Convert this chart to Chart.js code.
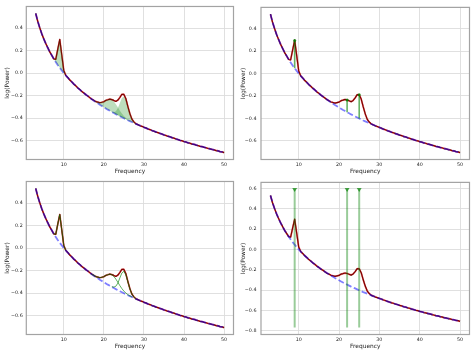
<!DOCTYPE html>
<html><head><meta charset="utf-8">
<script src="https://cdn.jsdelivr.net/npm/chart.js@4.4.1/dist/chart.umd.min.js"></script>
<style>
html,body{margin:0;padding:0;background:#fff;}
body{width:474px;height:355px;position:relative;overflow:hidden;}
.p{position:absolute;width:237px;height:177px;}
</style></head><body>
<div class="p" style="left:0;top:0"><canvas id="c1"></canvas></div>
<div class="p" style="left:237px;top:0"><canvas id="c2"></canvas></div>
<div class="p" style="left:0;top:175px"><canvas id="c3"></canvas></div>
<div class="p" style="left:237px;top:175px"><canvas id="c4"></canvas></div>
<script>
const freqs = [
 3,3.5,4,4.5,5,5.5,6,6.5,7,7.5,
 8,8.5,9,9.5,10,10.5,11,11.5,12,12.5,
 13,13.5,14,14.5,15,15.5,16,16.5,17,17.5,
 18,18.5,19,19.5,20,20.5,21,21.5,22,22.5,
 23,23.5,24,24.5,25,25.5,26,26.5,27,27.5,
 28,28.5,29,29.5,30,30.5,31,31.5,32,32.5,
 33,33.5,34,34.5,35,35.5,36,36.5,37,37.5,
 38,38.5,39,39.5,40,40.5,41,41.5,42,42.5,
 43,43.5,44,44.5,45,45.5,46,46.5,47,47.5,
 48,48.5,49,49.5,50];
const powerSpectrum = [
 0.531,0.460,0.404,0.350,0.306,0.263,0.227,0.188,0.159,0.126,
 0.122,0.213,0.299,0.161,0.024,-0.021,-0.039,-0.062,-0.078,-0.099,
 -0.113,-0.132,-0.145,-0.164,-0.176,-0.193,-0.204,-0.218,-0.233,-0.242,
 -0.254,-0.258,-0.264,-0.259,-0.255,-0.242,-0.237,-0.231,-0.236,-0.243,
 -0.252,-0.240,-0.217,-0.188,-0.190,-0.228,-0.298,-0.360,-0.409,-0.433,
 -0.451,-0.458,-0.468,-0.473,-0.482,-0.487,-0.497,-0.502,-0.511,-0.516,
 -0.525,-0.529,-0.537,-0.541,-0.550,-0.554,-0.563,-0.566,-0.574,-0.578,
 -0.586,-0.590,-0.598,-0.601,-0.609,-0.612,-0.620,-0.623,-0.631,-0.633,
 -0.640,-0.644,-0.651,-0.653,-0.660,-0.663,-0.670,-0.673,-0.679,-0.682,
 -0.689,-0.691,-0.698,-0.700,-0.707];
const modelFit = [
 0.530,0.462,0.403,0.352,0.305,0.264,0.225,0.190,0.158,0.128,
 0.123,0.211,0.297,0.163,0.025,-0.019,-0.041,-0.060,-0.079,-0.097,
 -0.114,-0.131,-0.147,-0.162,-0.177,-0.191,-0.205,-0.219,-0.231,-0.243,
 -0.252,-0.259,-0.262,-0.260,-0.254,-0.244,-0.236,-0.232,-0.235,-0.244,
 -0.250,-0.241,-0.216,-0.189,-0.188,-0.229,-0.297,-0.362,-0.408,-0.434,
 -0.449,-0.459,-0.466,-0.474,-0.481,-0.489,-0.496,-0.503,-0.510,-0.517,
 -0.523,-0.530,-0.536,-0.543,-0.549,-0.555,-0.561,-0.567,-0.573,-0.579,
 -0.585,-0.591,-0.597,-0.602,-0.608,-0.613,-0.619,-0.624,-0.629,-0.634,
 -0.639,-0.645,-0.650,-0.654,-0.659,-0.664,-0.669,-0.674,-0.678,-0.683,
 -0.688,-0.692,-0.697,-0.701,-0.706];
const aperiodicFit = [
 0.530,0.462,0.403,0.352,0.305,0.264,0.225,0.190,0.158,0.127,
 0.099,0.072,0.047,0.024,0.001,-0.020,-0.041,-0.060,-0.079,-0.097,
 -0.114,-0.131,-0.147,-0.162,-0.177,-0.191,-0.205,-0.219,-0.232,-0.245,
 -0.257,-0.269,-0.281,-0.292,-0.303,-0.314,-0.325,-0.335,-0.345,-0.355,
 -0.365,-0.374,-0.383,-0.392,-0.401,-0.410,-0.419,-0.427,-0.435,-0.443,
 -0.451,-0.459,-0.466,-0.474,-0.481,-0.489,-0.496,-0.503,-0.510,-0.517,
 -0.523,-0.530,-0.536,-0.543,-0.549,-0.555,-0.561,-0.567,-0.573,-0.579,
 -0.585,-0.591,-0.597,-0.602,-0.608,-0.613,-0.619,-0.624,-0.629,-0.634,
 -0.639,-0.645,-0.650,-0.654,-0.659,-0.664,-0.669,-0.674,-0.678,-0.683,
 -0.688,-0.692,-0.697,-0.701,-0.706];
// aperiodic + each gaussian peak
const peak1Freqs = [7.5,8,8.5,9,9.5,10,10.5];
const peak1Curve = [0.128,0.123,0.211,0.297,0.163,0.025,-0.019];
const peak2Freqs = [17,17.5,18,18.5,19,19.5,20,20.5,21,21.5,22,22.5,23,23.5,24,24.5,25,25.5,26,26.5,27];
const peak2Curve = [-0.231,-0.243,-0.252,-0.259,-0.262,-0.260,-0.254,-0.244,-0.236,-0.232,-0.237,-0.252,-0.276,-0.304,-0.334,-0.360,-0.382,-0.400,-0.414,-0.425,-0.434];
const peak3Freqs = [22,22.5,23,23.5,24,24.5,25,25.5,26,26.5,27,27.5,28];
const peak3Curve = [-0.343,-0.347,-0.339,-0.311,-0.265,-0.221,-0.207,-0.239,-0.301,-0.364,-0.409,-0.435,-0.449];
const peakCenters = [9, 22, 25];
const peakBases = [0.047, -0.345, -0.401];
const peakTops = [0.297, -0.235, -0.188];
const peakLineRange = [-0.768, 0.592];
const xTicks = [10, 20, 30, 40, 50];
const yTicksA = [-0.6, -0.4, -0.2, 0.0, 0.2, 0.4];
const yTicksB = [-0.8, -0.6, -0.4, -0.2, 0.0, 0.2, 0.4, 0.6];
const xLimits = [0.65, 52.35];
const yLimitsA = [-0.768, 0.592];
const yLimitsB = [-0.836, 0.660];

const FONT = 'DejaVu Sans';
const xy = (xs, ys) => xs.map((x, i) => ({x: x, y: ys[i]}));
const apAt = fs => fs.map(f => aperiodicFit[freqs.indexOf(f)]);
const fmtY = v => (v < -1e-9 ? '\u2212' : '') + Math.abs(v).toFixed(1);
const lineBase = {pointRadius:0, pointHoverRadius:0, fill:false, tension:0, borderJoinStyle:'round'};
const L = o => Object.assign({}, lineBase, o);

function spectrumSets() {
  return [
    L({data: xy(freqs, powerSpectrum), borderColor:'#000000', borderWidth:1.2, order:10}),
    L({data: xy(freqs, modelFit), borderColor:'rgba(255,0,0,0.5)', borderWidth:1.8, order:9}),
    L({data: xy(freqs, aperiodicFit), borderColor:'rgba(0,0,255,0.5)', borderWidth:1.8, borderDash:[6,2.6], order:8})
  ];
}
const peaks = [[peak1Freqs, peak1Curve], [peak2Freqs, peak2Curve], [peak3Freqs, peak3Curve]];

function shadeSets() {
  const sets = spectrumSets();
  peaks.forEach((p, k) => {
    const baseIdx = sets.length;
    sets.push(L({data: xy(p[0], apAt(p[0])), borderColor:'rgba(0,0,0,0)', borderWidth:1, order:7}));
    sets.push(L({data: xy(p[0], p[1]), borderColor:'rgba(0,0,0,0)', borderWidth:1,
      backgroundColor:'rgba(0,128,0,0.26)', fill:{target: baseIdx}, order:3 - k}));
  });
  return sets;
}
function dotSets() {
  const sets = spectrumSets();
  peakCenters.forEach((c, k) => {
    sets.push(L({data:[{x:c, y:peakBases[k]}, {x:c, y:peakTops[k]}], borderColor:'rgba(0,128,0,0.6)', borderWidth:1.6, order:2}));
  });
  sets.push(L({data: xy(peakCenters, peakTops), showLine:false, pointRadius:1.5, pointBackgroundColor:'rgba(0,128,0,0.8)', pointBorderWidth:0, pointBorderColor:'rgba(0,0,0,0)', order:1}));
  return sets;
}
function outlineSets() {
  const sets = spectrumSets();
  peaks.forEach(p => sets.push(L({data: xy(p[0], p[1]), borderColor:'rgba(0,128,0,0.7)', borderWidth:0.9, order:2})));
  return sets;
}
function lineSets() {
  const sets = spectrumSets();
  peakCenters.forEach(c => sets.push(L({data:[{x:c, y:peakLineRange[0]}, {x:c, y:peakLineRange[1]}], borderColor:'rgba(0,128,0,0.4)', borderWidth:2, order:2})));
  sets.push(L({data: peakCenters.map(c => ({x:c, y:peakLineRange[1]})), showLine:false, pointRadius:2.8, pointStyle:'triangle', pointRotation:180,
    pointBackgroundColor:'rgba(0,128,0,0.7)', pointBorderWidth:0, pointBorderColor:'rgba(0,0,0,0)', order:1}));
  return sets;
}

const framePlugin = {id:'frame', afterDraw(chart) {
  const {ctx, chartArea:a} = chart;
  ctx.save(); ctx.strokeStyle = '#a3a3a3'; ctx.lineWidth = 1.2;
  ctx.strokeRect(a.left, a.top, a.right - a.left, a.bottom - a.top); ctx.restore();
}};

function makeChart(id, datasets, yTicks, yLim, yW, yPad, yTitlePad, padR) {
  const grid = {color:'#dcdcdc', lineWidth:0.9, drawTicks:false};
  new Chart(document.getElementById(id), {
    type:'line',
    data:{datasets: datasets},
    options:{
      responsive:true, maintainAspectRatio:false, animation:false, devicePixelRatio:1, events:[],
      layout:{padding:{top:4, right:padR, bottom:0, left:0}},
      plugins:{legend:{display:false}, tooltip:{enabled:false}},
      scales:{
        x:{type:'linear', min:xLimits[0], max:xLimits[1],
          afterBuildTicks: s => { s.ticks = xTicks.map(v => ({value:v})); },
          afterFit: s => { s.height = 17.5; },
          grid: grid, border:{display:false},
          ticks:{font:{family:FONT, size:4.8}, color:'#222', padding:2.4, maxRotation:0, autoSkip:false, callback: v => String(v)},
          title:{display:true, text:'Frequency', font:{family:FONT, size:5.9}, color:'#222', padding:{top:0, bottom:1.5}}},
        y:{type:'linear', min:yLim[0], max:yLim[1],
          afterBuildTicks: s => { s.ticks = yTicks.map(v => ({value:v})); },
          afterFit: s => { s.width = yW; },
          grid: grid, border:{display:false},
          ticks:{font:{family:FONT, size:4.8}, color:'#222', padding:yPad, autoSkip:false, callback: fmtY},
          title:{display:true, text:'log(Power)', font:{family:FONT, size:5.9}, color:'#222', padding:{top:yTitlePad, bottom:0}}}
      }
    },
    plugins:[framePlugin]
  });
}
makeChart('c1', shadeSets(), yTicksA, yLimitsA, 26.3, 3.6, 3.8, 3.5);
makeChart('c2', dotSets(), yTicksA, yLimitsA, 24, 4.5, 2.5, 4.5);
makeChart('c3', outlineSets(), yTicksA, yLimitsA, 26.3, 3.6, 3.8, 3.5);
makeChart('c4', lineSets(), yTicksB, yLimitsB, 24, 4.5, 2.5, 4.5);
</script>
</body></html>
